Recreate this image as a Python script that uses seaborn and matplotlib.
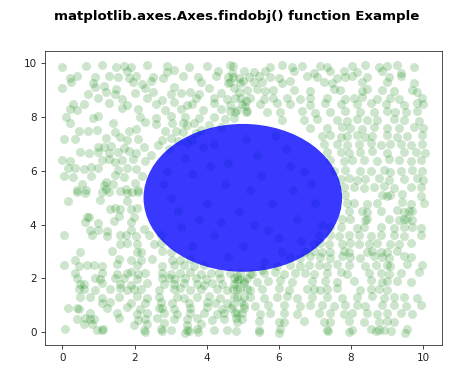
import matplotlib
matplotlib.use("Agg")
import matplotlib.pyplot as plt
from matplotlib.patches import Circle
import seaborn as sns

# scattered points, grouped by region (x, y)
upper_left = [
    (0.0, 9.88), (0.65, 9.9), (1.1, 9.93), (1.5, 9.85), (1.7, 9.92), (1.9, 9.87), (2.35, 9.95), (2.9, 9.9), (3.5, 9.86), (4.0, 9.92), (4.65, 9.95),
    (1.8, 9.72), (2.9, 9.68), (3.1, 9.75), (4.3, 9.7), (4.7, 9.65),
    (0.2, 9.45), (0.4, 9.52), (0.9, 9.5), (1.3, 9.55), (1.55, 9.48), (1.85, 9.47), (2.05, 9.52), (2.5, 9.5), (2.8, 9.44), (3.35, 9.53), (3.75, 9.48), (4.25, 9.55), (4.6, 9.5), (4.9, 9.46),
    (0.25, 9.32), (0.85, 9.28), (1.95, 9.3), (2.2, 9.25), (2.45, 9.35), (3.85, 9.3), (4.6, 9.27), (5.0, 9.33),
    (0.0, 9.08), (0.9, 9.12), (1.15, 9.15), (1.5, 9.05), (2.3, 9.1), (3.1, 9.13), (4.05, 9.07), (4.75, 9.1),
    (0.7, 8.88), (1.2, 8.92), (1.45, 8.85), (2.0, 8.9), (2.5, 8.95), (3.0, 8.87), (3.3, 8.9), (3.55, 8.93), (3.8, 8.86), (4.4, 8.9), (4.9, 8.92),
    (1.0, 8.7), (1.65, 8.68), (2.35, 8.72), (2.75, 8.65), (3.7, 8.7), (4.2, 8.73), (4.55, 8.67), (4.95, 8.7), (5.1, 8.62),
    (0.3, 8.5), (0.6, 8.48), (1.3, 8.52), (1.8, 8.45), (2.6, 8.5), (3.1, 8.55), (3.45, 8.47), (3.6, 8.5), (4.2, 8.52), (4.65, 8.46), (5.05, 8.42),
    (0.2, 8.3), (0.4, 8.27), (1.65, 8.33), (2.1, 8.3), (2.85, 8.25), (3.3, 8.32), (3.9, 8.28), (4.4, 8.3), (4.65, 8.22), (4.85, 8.25), (5.1, 8.18),
    (0.1, 8.02), (0.85, 7.98), (1.0, 8.05), (2.15, 8.0), (2.6, 7.97), (3.0, 8.03), (3.4, 8.0), (3.8, 7.96), (4.2, 8.02), (4.5, 7.95), (4.75, 7.98),
    (0.2, 7.8), (1.4, 7.78), (2.3, 7.82), (2.6, 7.75), (3.05, 7.8), (3.35, 7.77), (3.45, 7.72), (3.65, 7.8), (4.05, 7.7), (4.4, 7.65),
    (0.45, 7.5), (0.7, 7.48), (0.95, 7.52), (1.45, 7.45), (1.85, 7.5), (2.05, 7.55), (2.85, 7.47), (3.15, 7.5), (3.35, 7.45), (3.7, 7.4), (3.85, 7.52),
    (0.05, 7.2), (0.35, 7.18), (1.2, 7.22), (1.6, 7.25), (1.8, 7.15), (2.1, 7.2), (2.75, 7.17), (3.0, 7.22), (3.2, 7.1), (3.45, 7.05), (3.6, 7.15),
    (1.0, 6.9), (1.15, 6.88), (1.35, 6.92), (1.7, 6.85), (2.25, 6.9), (2.65, 6.95), (2.95, 6.8),
    (0.5, 6.7), (0.75, 6.68), (1.0, 6.72), (1.3, 6.65), (1.55, 6.7), (1.85, 6.73), (2.05, 6.67), (2.45, 6.6),
    (0.0, 6.42), (0.2, 6.38), (1.1, 6.4), (1.3, 6.45), (1.45, 6.35), (1.65, 6.4), (1.95, 6.43), (2.3, 6.37),
    (0.15, 6.1), (0.35, 6.12), (0.6, 6.08), (0.8, 6.15), (1.0, 6.1), (1.55, 6.05), (1.8, 6.12), (2.05, 6.08),
    (0.05, 5.82), (0.3, 5.78), (0.8, 5.8), (1.45, 5.85), (1.7, 5.77), (2.2, 5.8),
    (0.55, 5.52), (1.15, 5.48), (1.4, 5.5), (2.0, 5.55), (1.2, 5.6),
    (0.4, 5.3), (0.65, 5.28), (1.2, 5.32), (1.6, 5.27), (1.75, 5.33), (2.1, 5.3),
]

upper_right = [
    (4.74, 9.9), (5.76, 9.88), (6.09, 9.93), (6.36, 9.85), (6.64, 9.9), (7.15, 9.92), (7.34, 9.87), (8.03, 9.9), (8.4, 9.95), (8.77, 9.86), (9.0, 9.9), (9.28, 9.93), (9.74, 9.88),
    (5.02, 9.7), (5.3, 9.68), (5.62, 9.72), (6.41, 9.7), (6.96, 9.66), (7.43, 9.73), (7.8, 9.7), (8.17, 9.68), (8.86, 9.72), (9.37, 9.65),
    (4.74, 9.5), (5.16, 9.48), (5.44, 9.52), (5.76, 9.5), (5.99, 9.45), (6.78, 9.53), (7.06, 9.5), (7.61, 9.47), (7.84, 9.5), (8.03, 9.54), (8.45, 9.5), (9.05, 9.48), (9.37, 9.52),
    (4.65, 9.3), (4.93, 9.28), (5.3, 9.32), (5.53, 9.3), (6.09, 9.27), (6.32, 9.33), (7.24, 9.3), (7.47, 9.26), (8.31, 9.3), (9.0, 9.32), (9.74, 9.28),
    (5.11, 9.0), (5.39, 9.03), (5.62, 8.98), (5.85, 9.02), (6.41, 9.0), (6.87, 8.97), (7.52, 9.03), (7.7, 9.0), (8.31, 8.98), (8.45, 9.05), (8.86, 9.0), (9.19, 8.96), (9.7, 9.02), (9.84, 8.95),
    (4.79, 8.7), (5.21, 8.72), (5.58, 8.68), (5.85, 8.7), (6.22, 8.73), (6.59, 8.67), (6.87, 8.7), (7.34, 8.72), (7.84, 8.68), (8.08, 8.7), (8.31, 8.74), (8.72, 8.68), (9.09, 8.7), (9.33, 8.66), (9.97, 8.72),
    (4.97, 8.5), (5.48, 8.48), (5.95, 8.52), (6.32, 8.5), (6.87, 8.46), (7.29, 8.52), (7.71, 8.5), (8.17, 8.48), (8.54, 8.53), (8.96, 8.5), (9.46, 8.47), (9.84, 8.52), (10.0, 8.5),
    (4.79, 8.2), (5.11, 8.22), (5.67, 8.18), (6.04, 8.2), (6.64, 8.23), (7.01, 8.17), (7.43, 8.2), (7.84, 8.22), (8.26, 8.18), (8.63, 8.2), (9.0, 8.24), (9.23, 8.18), (9.51, 8.2), (9.84, 8.22),
    (6.09, 7.9), (6.69, 7.88), (7.06, 7.92), (7.61, 7.9), (7.89, 7.87), (8.17, 7.93), (8.45, 7.9), (8.72, 7.88), (9.19, 7.92), (9.46, 7.9), (9.88, 7.87),
    (6.87, 7.6), (7.34, 7.58), (7.75, 7.62), (7.98, 7.6), (8.31, 7.57), (8.63, 7.63), (9.0, 7.6), (9.33, 7.58), (9.74, 7.62), (10.0, 7.6),
    (7.2, 7.3), (7.43, 7.32), (7.71, 7.28), (7.89, 7.3), (8.17, 7.33), (8.4, 7.27), (8.59, 7.3), (9.0, 7.32), (9.28, 7.28), (9.56, 7.3), (9.97, 7.33),
    (7.24, 7.0), (7.61, 7.02), (7.89, 6.98), (8.21, 7.0), (8.54, 7.03), (8.82, 6.97), (9.09, 7.0), (9.37, 7.02), (9.65, 6.98), (9.97, 7.0),
    (7.34, 6.7), (7.71, 6.72), (7.94, 6.68), (8.26, 6.7), (8.59, 6.73), (9.0, 6.67), (9.46, 6.7), (9.79, 6.72), (10.05, 6.68),
    (7.43, 6.4), (7.8, 6.38), (8.03, 6.42), (8.35, 6.4), (8.72, 6.37), (9.05, 6.43), (9.33, 6.4), (9.65, 6.38), (9.93, 6.42),
    (7.52, 6.0), (7.84, 6.02), (8.26, 5.98), (8.54, 6.0), (8.91, 6.03), (9.09, 5.97), (9.37, 6.0), (9.7, 6.02), (9.97, 5.98),
    (7.71, 5.7), (7.94, 5.72), (8.17, 5.68), (8.4, 5.7), (8.77, 5.73), (9.05, 5.67), (9.46, 5.7), (9.84, 5.72), (10.0, 5.68),
    (7.8, 5.4), (8.08, 5.42), (8.35, 5.38), (8.63, 5.4), (8.91, 5.43), (9.19, 5.37), (9.65, 5.4), (9.93, 5.42),
]

lower_left = [
    (0.4, 5.2), (0.64, 5.18), (1.1, 5.22), (1.28, 5.2), (1.79, 5.17), (1.93, 5.22), (2.11, 5.2),
    (0.17, 4.9), (1.05, 4.92), (1.79, 4.88),
    (1.33, 4.6), (1.47, 4.62), (1.6, 4.58), (1.89, 4.6), (2.07, 4.63),
    (0.68, 4.3), (0.73, 4.27), (1.56, 4.32), (1.98, 4.3),
    (0.64, 4.1), (1.0, 4.08), (1.42, 4.12), (1.89, 4.1),
    (0.77, 3.8), (1.0, 3.82), (1.24, 3.78), (1.89, 3.8), (2.26, 3.83),
    (0.04, 3.6), (0.82, 3.62), (1.24, 3.58), (1.6, 3.6), (1.75, 3.63), (2.03, 3.57), (2.39, 3.6), (2.72, 3.62),
    (1.6, 3.3), (1.79, 3.32), (2.07, 3.28), (2.53, 3.3), (2.72, 3.33),
    (0.5, 3.0), (1.38, 3.02), (2.07, 2.98), (2.17, 3.0), (2.76, 3.03), (3.0, 2.97),
    (0.36, 2.7), (1.56, 2.72), (1.89, 2.68), (2.17, 2.7), (2.49, 2.73), (3.04, 2.67), (3.27, 2.7), (3.55, 2.72),
    (0.04, 2.5), (0.45, 2.48), (0.68, 2.52), (0.87, 2.5), (1.1, 2.47), (1.52, 2.53), (2.07, 2.5), (2.76, 2.48), (3.09, 2.52), (3.37, 2.5), (3.64, 2.47), (3.92, 2.52),
    (0.36, 2.2), (1.1, 2.22), (1.52, 2.18), (1.79, 2.2), (1.89, 2.23), (2.11, 2.17), (2.3, 2.2), (2.76, 2.22), (3.0, 2.18), (3.27, 2.2), (3.55, 2.23), (3.83, 2.17), (4.11, 2.2), (4.34, 2.22),
    (0.4, 2.0), (0.91, 2.02), (1.05, 1.98), (1.47, 2.0), (1.7, 2.03), (2.07, 1.97), (2.76, 2.0), (2.95, 2.02), (3.13, 1.98), (3.41, 2.0), (3.69, 2.03), (3.97, 1.97), (4.38, 2.0), (4.75, 2.02), (4.89, 1.98), (5.12, 2.0),
    (0.5, 1.8), (0.59, 1.78), (1.1, 1.82), (1.6, 1.8), (1.89, 1.77), (2.35, 1.83), (2.81, 1.8), (3.09, 1.78), (3.37, 1.82), (3.74, 1.8), (3.92, 1.77), (4.15, 1.83), (4.43, 1.8), (4.75, 1.78), (5.03, 1.82),
    (0.45, 1.6), (0.59, 1.62), (0.91, 1.58), (1.33, 1.6), (1.6, 1.63), (1.79, 1.57), (1.98, 1.6), (2.17, 1.62), (2.67, 1.58), (3.09, 1.6), (3.27, 1.63), (3.55, 1.57), (3.83, 1.6), (4.29, 1.62), (4.57, 1.58), (4.85, 1.6), (5.12, 1.62),
    (0.5, 1.3), (0.77, 1.32), (1.1, 1.28), (1.56, 1.3), (2.07, 1.33), (2.35, 1.27), (2.67, 1.3), (3.18, 1.32), (3.37, 1.28), (3.74, 1.3), (4.06, 1.33), (4.38, 1.27), (4.75, 1.3), (5.03, 1.32),
    (1.1, 1.1), (1.33, 1.12), (1.89, 1.08), (2.3, 1.1), (2.72, 1.13), (3.04, 1.07), (3.5, 1.1), (4.01, 1.12), (4.24, 1.08), (4.57, 1.1), (4.94, 1.13),
    (0.17, 0.9), (0.4, 0.92), (0.45, 0.88), (1.24, 0.9), (1.79, 0.93), (2.16, 0.87), (2.67, 0.9), (2.76, 0.92), (3.09, 0.88), (3.55, 0.9), (4.01, 0.93), (4.43, 0.87), (4.66, 0.9), (5.03, 0.92),
    (0.77, 0.7), (1.52, 0.72), (2.07, 0.68), (2.35, 0.7), (2.81, 0.73), (3.18, 0.67), (3.55, 0.7), (3.92, 0.72), (4.29, 0.68), (4.47, 0.7), (4.85, 0.73),
    (0.4, 0.5), (0.64, 0.52), (0.77, 0.48), (0.87, 0.5), (1.56, 0.53), (2.11, 0.47), (2.3, 0.5), (2.62, 0.52), (3.09, 0.48), (3.46, 0.5), (3.74, 0.53), (4.15, 0.47), (4.47, 0.5), (4.8, 0.52), (4.99, 0.48),
    (0.59, 0.3), (0.82, 0.32), (1.98, 0.28), (2.35, 0.3), (2.81, 0.33), (3.46, 0.27), (3.83, 0.3),
    (0.08, 0.12), (0.96, 0.1), (1.1, 0.08), (1.14, 0.13), (2.25, 0.1), (2.72, 0.12), (3.0, 0.08), (3.46, 0.1), (3.74, 0.13), (4.2, 0.07), (4.57, 0.1),
    (2.3, 0.02), (2.75, 0.05), (3.4, -0.02), (3.5, 0.04), (3.75, 0.0), (4.8, 0.03),
]

lower_right = [
    (7.84, 5.1), (8.86, 5.12), (9.0, 5.08), (9.09, 5.1), (9.42, 5.13), (9.93, 5.07),
    (7.89, 4.8), (8.08, 4.82), (8.45, 4.78), (8.72, 4.8), (9.42, 4.83), (9.65, 4.77), (10.02, 4.8),
    (7.94, 4.5), (8.31, 4.52), (8.45, 4.48), (8.82, 4.5), (9.28, 4.53), (9.46, 4.47), (9.6, 4.5), (9.7, 4.52),
    (7.75, 4.2), (7.98, 4.22), (8.4, 4.18), (8.45, 4.2), (9.05, 4.23), (9.33, 4.17), (9.46, 4.2), (9.56, 4.22), (9.7, 4.18),
    (7.43, 3.9), (7.71, 3.92), (8.17, 3.88), (8.35, 3.9), (8.82, 3.93), (9.19, 3.87), (9.46, 3.9), (9.7, 3.92), (9.93, 3.88),
    (7.1, 3.6), (7.43, 3.62), (7.66, 3.58), (7.94, 3.6), (8.21, 3.63), (8.54, 3.57), (8.82, 3.6), (9.19, 3.62), (9.46, 3.58), (9.93, 3.6),
    (6.96, 3.3), (7.15, 3.32), (7.38, 3.28), (7.75, 3.3), (7.98, 3.33), (8.21, 3.27), (8.49, 3.3), (8.72, 3.32), (9.09, 3.28), (9.33, 3.3), (9.65, 3.33),
    (6.73, 3.0), (6.96, 3.02), (7.2, 2.98), (7.43, 3.0), (7.8, 3.03), (7.94, 2.97), (8.45, 3.0), (8.59, 3.02), (8.82, 2.98), (9.0, 3.0), (9.28, 3.03),
    (6.32, 2.8), (6.59, 2.78), (6.87, 2.82), (7.15, 2.8), (7.43, 2.77), (7.75, 2.83), (7.98, 2.8), (8.26, 2.78), (8.63, 2.82), (8.86, 2.8), (9.05, 2.77), (9.46, 2.83), (9.65, 2.8),
    (4.84, 2.1), (5.21, 2.15), (5.53, 2.3), (5.95, 2.45), (6.32, 2.5), (6.59, 2.48), (6.83, 2.52), (7.1, 2.5), (7.34, 2.47), (7.61, 2.53), (7.94, 2.5), (8.4, 2.48), (8.68, 2.52), (9.0, 2.5), (9.09, 2.47), (9.56, 2.53), (9.97, 2.5),
    (4.65, 2.2), (4.93, 2.22), (5.25, 2.18), (5.58, 2.2), (5.9, 2.23), (6.13, 2.17), (6.46, 2.2), (6.73, 2.22), (6.96, 2.18), (7.34, 2.2), (7.71, 2.23), (7.89, 2.17), (8.49, 2.2), (8.82, 2.22), (9.05, 2.18), (9.37, 2.2), (9.88, 2.23),
    (4.84, 1.9), (5.02, 1.92), (5.39, 1.88), (5.71, 1.9), (6.04, 1.93), (6.36, 1.87), (6.92, 1.9), (7.29, 1.92), (7.61, 1.88), (8.08, 1.9), (8.54, 1.93), (8.86, 1.87), (9.0, 1.9), (9.28, 1.92), (9.65, 1.88),
    (4.74, 1.6), (4.93, 1.62), (5.21, 1.58), (5.53, 1.6), (5.99, 1.63), (6.27, 1.57), (6.78, 1.6), (6.96, 1.62), (7.15, 1.58), (7.34, 1.6), (7.61, 1.63), (8.26, 1.57), (8.54, 1.6), (8.77, 1.62), (9.0, 1.58),
    (4.84, 1.3), (5.21, 1.32), (5.58, 1.28), (5.95, 1.3), (6.22, 1.33), (6.5, 1.27), (6.92, 1.3), (7.34, 1.32), (7.75, 1.28), (8.17, 1.3), (8.59, 1.33), (8.91, 1.27), (9.19, 1.3), (9.46, 1.32), (9.84, 1.28),
    (4.74, 1.0), (5.02, 1.02), (5.34, 0.98), (5.71, 1.0), (6.13, 1.03), (6.59, 0.97), (6.87, 1.0), (7.2, 1.02), (7.52, 0.98), (7.84, 1.0), (8.17, 1.03), (8.4, 0.97), (8.86, 1.0), (9.19, 1.02), (9.51, 0.98), (9.93, 1.0),
    (4.79, 0.7), (4.97, 0.72), (5.48, 0.68), (5.76, 0.7), (6.13, 0.73), (6.5, 0.67), (7.1, 0.7), (7.43, 0.72), (7.8, 0.68), (8.03, 0.7), (8.45, 0.73), (8.72, 0.67), (9.0, 0.7), (9.37, 0.72), (9.7, 0.68),
    (4.84, 0.4), (5.44, 0.42), (5.99, 0.38), (6.13, 0.4), (6.69, 0.43), (7.24, 0.37), (7.43, 0.4), (7.94, 0.42), (8.35, 0.38), (8.77, 0.4), (9.0, 0.43), (9.19, 0.37),
    (5.44, 0.1), (6.04, 0.12), (7.34, 0.08), (8.03, 0.1), (8.54, 0.13), (8.77, 0.07), (8.91, 0.1), (9.56, 0.12),
    (5.45, 0.02), (6.0, -0.02), (7.35, 0.04), (7.95, 0.0), (8.7, 0.03), (9.1, 0.05), (9.5, -0.01),
]

# points hidden under the disc
under_disc = [
    (3.0, 5.0), (3.4, 6.5), (4.2, 7.0), (5.1, 7.2), (6.2, 6.8), (6.7, 6.0), (5.5, 5.8), (4.5, 5.5),
    (3.8, 4.2), (4.2, 3.6), (5.0, 3.2), (6.0, 3.5), (6.5, 4.2), (7.0, 4.8), (5.8, 4.8), (4.9, 4.5),
    (3.3, 3.9), (2.8, 5.5), (3.6, 5.9), (6.9, 5.5), (5.4, 6.6), (4.6, 6.3), (6.1, 3.0), (4.0, 4.8),
    (5.3, 4.0), (6.4, 5.3), (3.9, 6.9), (5.9, 7.3), (4.6, 2.8), (5.6, 2.6), (3.2, 4.5), (4.4, 4.1),
    (5.2, 5.3), (6.3, 6.2), (7.2, 4.0), (2.9, 6.0), (4.1, 6.2), (5.7, 3.8), (6.6, 3.4), (3.6, 3.2),
]

disc_center = (5, 5)
disc_radius = 2.75

pts = upper_left + upper_right + lower_left + lower_right + under_disc
x_pts = [p[0] for p in pts]
y_pts = [p[1] for p in pts]

fig = plt.figure(figsize=(4.74, 3.79), dpi=100)
ax = fig.add_axes([0.095, 0.09, 0.8375, 0.776])

sns.scatterplot(x=x_pts, y=y_pts, color="green", alpha=0.2, s=42,
                linewidth=0, ax=ax)

ax.add_patch(Circle(disc_center, disc_radius, color="blue", alpha=0.78,
                    zorder=3, linewidth=0))

ax.set_xlim(-0.48, 10.52)
ax.set_ylim(-0.47, 10.47)
ax.set_xticks([0, 2, 4, 6, 8, 10])
ax.set_yticks([0, 2, 4, 6, 8, 10])
ax.tick_params(labelsize=7.5, length=2.6, width=0.6, colors="#222222")
for sp in ax.spines.values():
    sp.set_linewidth(0.6)
    sp.set_color("#333333")

fig.suptitle("matplotlib.axes.Axes.findobj() function Example",
             fontweight="bold", fontsize=9.6, y=0.956, va="center")

fig.savefig("out.png", dpi=100)
